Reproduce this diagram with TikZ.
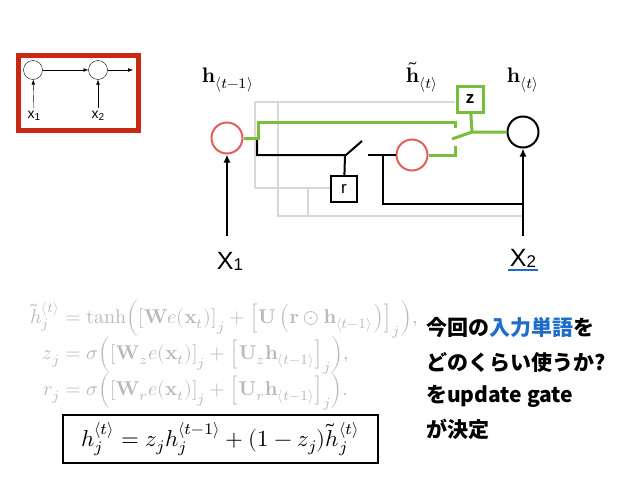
\documentclass[tikz,border=0pt]{standalone}
\usepackage{amsmath}
\usepackage{unicode-math}
\setmathfont{Latin Modern Math}
\newfontfamily\jp{Noto Sans CJK JP}
\newfontfamily\sfx{Liberation Sans}
\usetikzlibrary{arrows.meta}
\definecolor{gr}{RGB}{120,190,60}
\definecolor{rd}{RGB}{225,95,90}
\definecolor{lg}{RGB}{215,215,215}
\definecolor{eqg}{RGB}{185,185,185}
\definecolor{bx}{RGB}{200,40,20}
\definecolor{bl}{RGB}{30,110,200}
\begin{document}
\begin{tikzpicture}[x=1pt,y=-1pt,
  gl/.style={lg,line width=1.5pt},
  gn/.style={gr,line width=3pt},
  bk/.style={black,line width=2pt},
  arr/.style={black,line width=2pt,-{Latex[length=8pt,width=7pt]}},
  gbox/.style={draw=gr,line width=3pt,minimum size=26pt,inner sep=0pt,font=\sfx\bfseries\fontsize{17}{17}\selectfont},
  kbox/.style={draw,line width=1.5pt,minimum size=26pt,inner sep=0pt,font=\sfx\fontsize{17}{17}\selectfont},
  jpt/.style={anchor=west,font=\jp\bfseries\fontsize{21}{21}\selectfont,inner sep=0pt}]
\useasboundingbox (0,0) rectangle (638,479);
% small diagram
\draw[bx,line width=5pt] (18,55) rectangle (138,130);
\node[circle,draw,thin,minimum size=19pt,inner sep=0pt] (s1) at (33,70) {};
\node[circle,draw,thin,minimum size=19pt,inner sep=0pt] (s2) at (98,70) {};
\coordinate (s3) at (133,70);
\node[font=\sfx\fontsize{14}{14}\selectfont] (sx1) at (34,116) {x\raisebox{-2pt}{\fontsize{10}{10}\selectfont 1}};
\node[font=\sfx\fontsize{14}{14}\selectfont] (sx2) at (98,116) {x\raisebox{-2pt}{\fontsize{10}{10}\selectfont 2}};
\draw[-Latex,thin] (s1) -- (s2);
\draw[-Latex,thin] (s2) -- (s3);
\draw[-Latex,thin] (sx1) -- (s1);
\draw[-Latex,thin] (sx2) -- (s2);
% gray lines
\draw[gl] (255,188) -- (255,102) -- (455,102);
\draw[gl] (278,102) -- (278,216) -- (523,216);
\draw[gl] (308,188) -- (308,216);
\draw[gl] (255,188) -- (330,188);
% nodes
\node[circle,draw=rd,line width=2pt,minimum size=31pt,inner sep=0pt] (a) at (227,138) {};
\node[circle,draw,line width=2pt,minimum size=31pt,inner sep=0pt] (c) at (523,132) {};
\node[circle,draw=rd,line width=2pt,minimum size=31pt,inner sep=0pt] (b) at (412,155) {};
\node[gbox,fill=white] (z) at (470,99) {z};
\node[kbox,fill=white] (r) at (344,189) {r};
% black lines
\draw[bk] (257,138) -- (257,155) -- (346,155) -- (362,141);
\draw[bk] (r) -- (345,155);
\draw[bk] (368,155) -- (b);
\draw[bk] (383,155) -- (383,204) -- (523,204);
% green
\draw[gn] (a) -- (258,138) -- (258,122) -- (455,122) -- (455,128);
\draw[gn] (b) -- (455,155) -- (455,146);
\draw[gn] (452,139) -- (472,132) -- (c);
\draw[gn] (z) -- (472,132);
% arrows
\node[font=\sfx\fontsize{25}{25}\selectfont] (x1) at (230,261) {X\raisebox{-1pt}{\fontsize{17}{17}\selectfont 1}};
\node[font=\sfx\fontsize{25}{25}\selectfont] (x2) at (523,258) {X\raisebox{-1pt}{\fontsize{17}{17}\selectfont 2}};
\draw[bl,line width=2.5pt] (508,270) -- (538,270);
\draw[arr] (227,236) -- (a);
\draw[arr] (523,236) -- (c);
% labels
\node (l1) at (228,80) {\scalebox{2.1}{$\mathbf{h}_{\langle t-1\rangle}$}};
\node (l2) at (422,77) {\scalebox{2.1}{$\tilde{\mathbf{h}}_{\langle t\rangle}$}};
\node (l3) at (523,80) {\scalebox{2.1}{$\mathbf{h}_{\langle t\rangle}$}};
% equations
\node[eqg,anchor=north west,inner sep=0pt] (eq) at (30,300) {\scalebox{2}{$\begin{aligned}
\tilde{h}_j^{\langle t\rangle} &= \tanh\Bigl(\left[\mathbf{W}e(\mathbf{x}_t)\right]_j+\left[\mathbf{U}\left(\mathbf{r}\odot\mathbf{h}_{\langle t-1\rangle}\right)\right]_j\Bigr),\\[-5pt]
z_j &= \sigma\Bigl(\left[\mathbf{W}_z e(\mathbf{x}_t)\right]_j+\left[\mathbf{U}_z\mathbf{h}_{\langle t-1\rangle}\right]_j\Bigr),\\[-5pt]
r_j &= \sigma\Bigl(\left[\mathbf{W}_r e(\mathbf{x}_t)\right]_j+\left[\mathbf{U}_r\mathbf{h}_{\langle t-1\rangle}\right]_j\Bigr).
\end{aligned}$}};
\node[draw,line width=2pt,fill=white,minimum width=315pt,minimum height=48pt] (box) at (220.5,439)
 {\scalebox{2.3}{$h_j^{\langle t\rangle}=z_jh_j^{\langle t-1\rangle}+(1-z_j)\tilde{h}_j^{\langle t\rangle}$}};
% japanese
\node[jpt] (j1) at (426,327) {今回の\textcolor{bl}{入力単語}を};
\node[jpt] (j2) at (426,363) {どのくらい使うか?};
\node[jpt] (j3) at (426,396) {をupdate gate};
\node[jpt] (j4) at (426,429) {が決定};
\end{tikzpicture}
\end{document}
